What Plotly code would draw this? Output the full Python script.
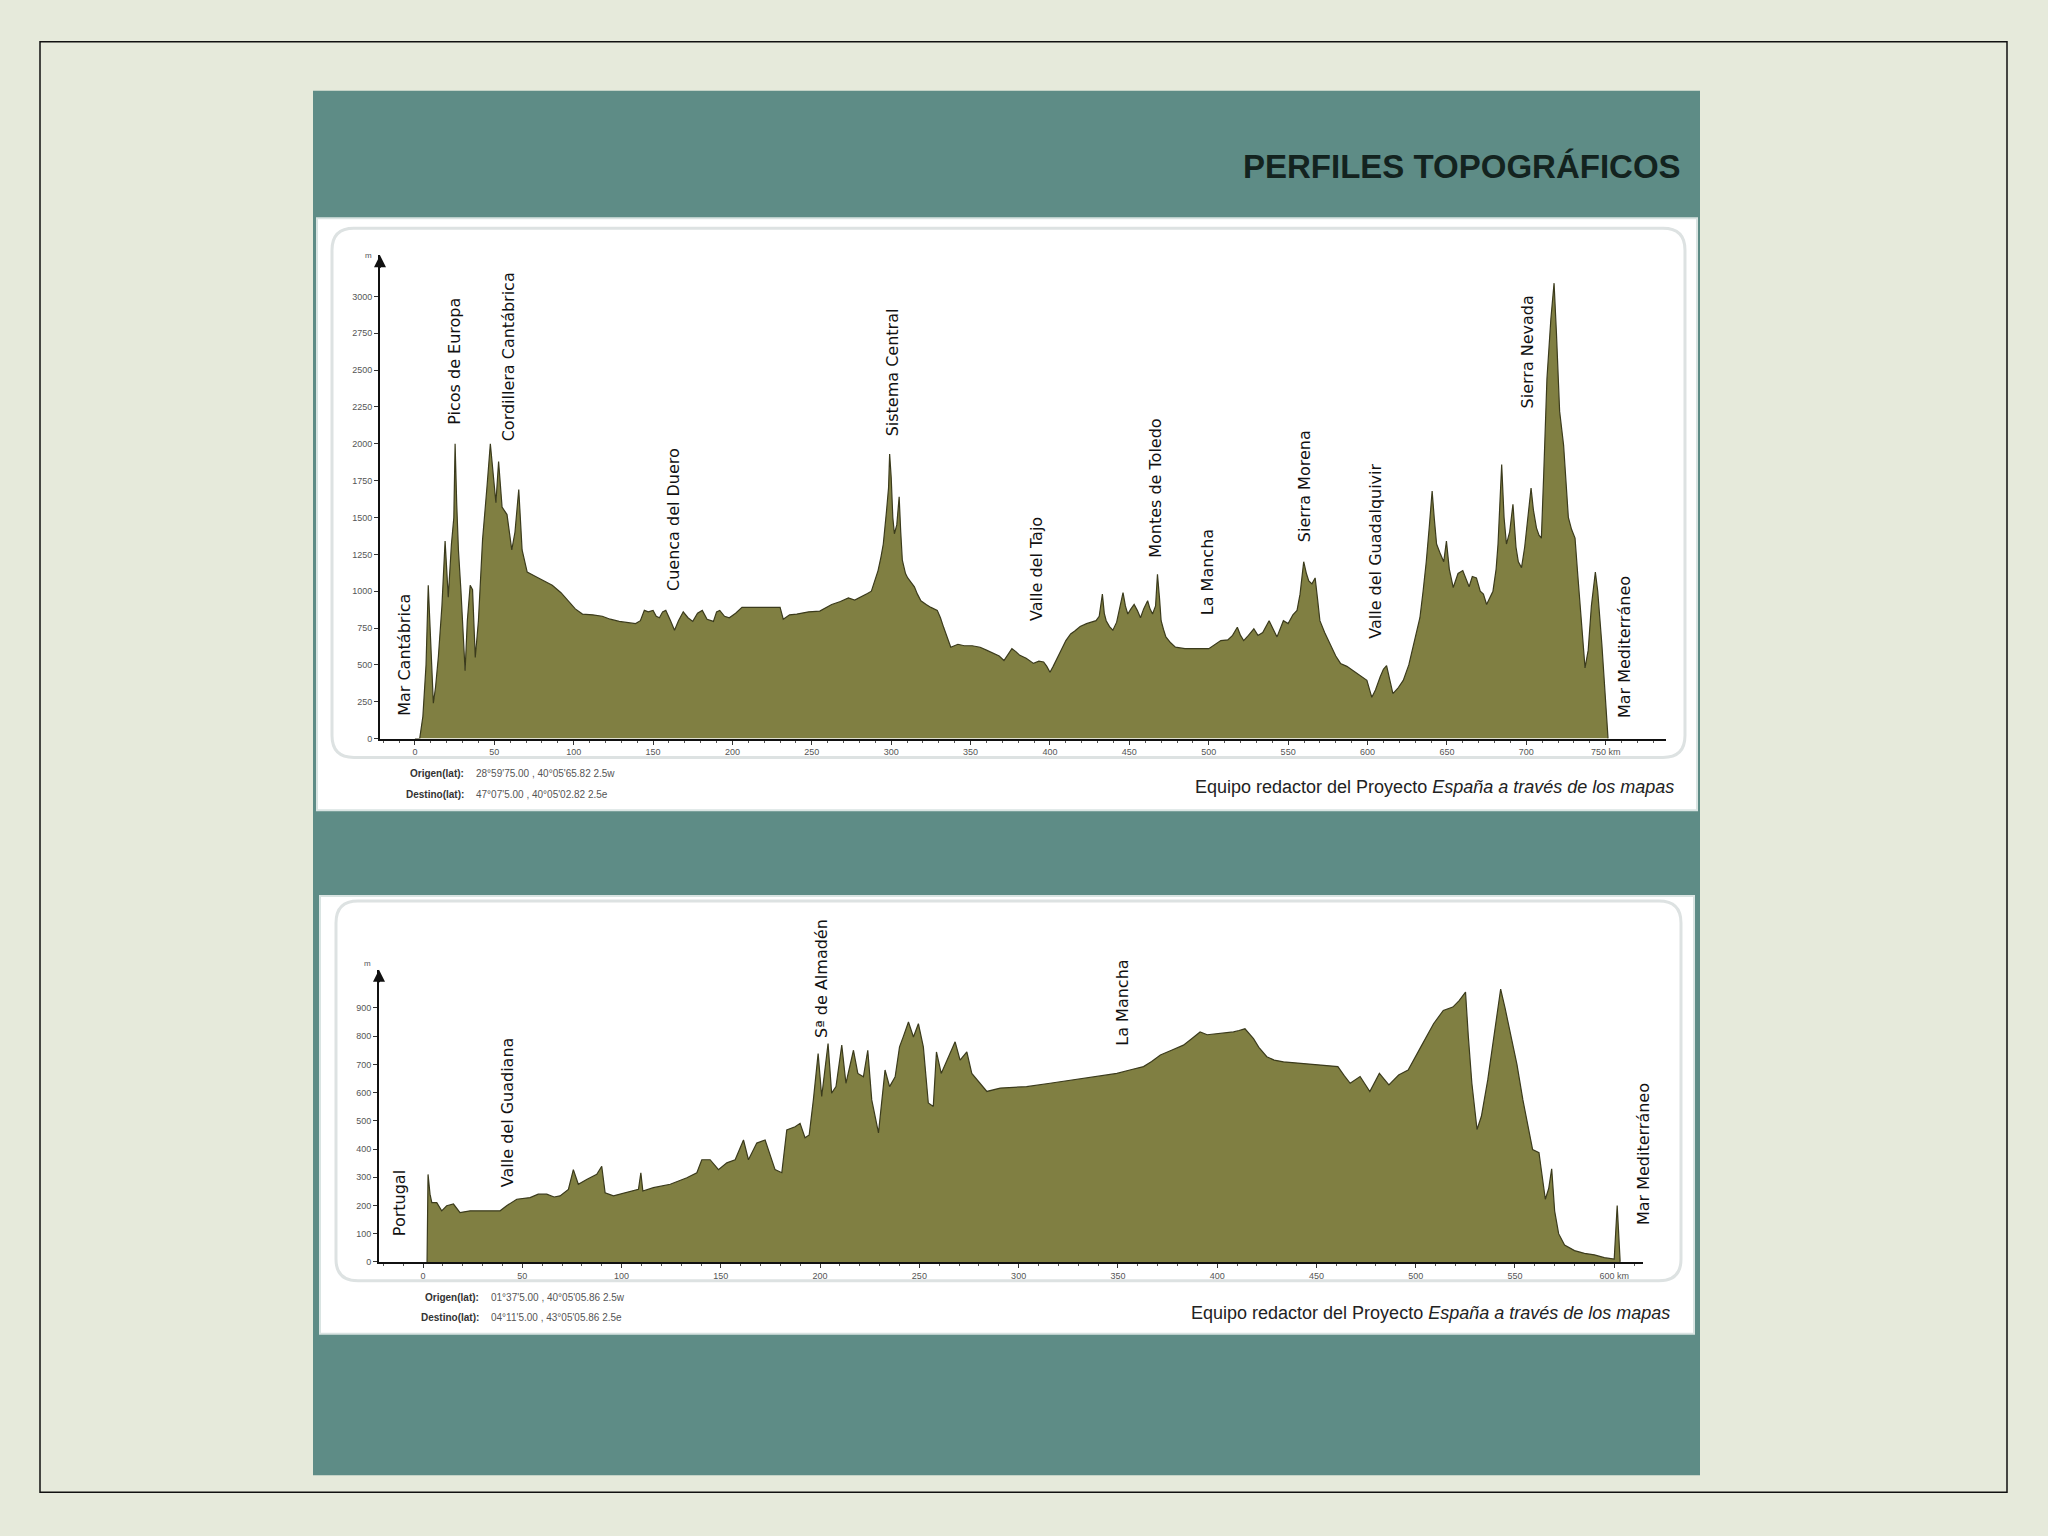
import plotly.graph_objects as go

# ---------------- data ----------------
top_km = [0, 3, 5, 7, 8.4, 10, 11.6, 13, 14.8, 17, 19, 21, 23, 24.5, 25.3, 26.3, 27.4, 29, 30.6, 31.6,
          33, 34.8, 36.3, 38, 40, 42.6, 45.4, 47.5, 49.6, 51, 52.7, 54.9, 58, 61, 63, 65.4, 67.5, 70.7,
          76, 81, 86.5, 92, 97, 101, 105.5, 112, 118, 123, 128.7, 134, 139, 142, 144.5, 147, 150, 152,
          154, 156, 158, 161, 163.5, 166, 169, 172, 175, 178, 181, 184, 188, 190, 192, 195, 198, 202,
          206, 215, 225, 230, 232, 236, 240.5, 248, 255, 262.5, 268, 273, 277, 281, 285, 287.5, 289.5,
          291.7, 293.5, 295, 297, 298.3, 299, 300, 301, 302, 303.5, 305, 306, 307, 309, 310.4, 312.5,
          314.6, 316.5, 318.7, 322, 325, 329, 331, 333, 335, 337.5, 342, 346, 351, 356, 360, 364.6, 368,
          371, 373.5, 376, 378.5, 381, 385, 389.6, 393, 396, 398, 400, 402, 404, 407, 410, 413, 415.6,
          419, 423, 426, 429, 431, 433, 434.2, 435.4, 437.5, 439.6, 442, 444, 446, 447.5, 449, 451, 453,
          455, 457, 459, 461.5, 463, 464.6, 466.5, 467.7, 469, 470, 471.5, 473, 476, 479, 485, 491.7,
          500, 507.6, 512, 515, 518, 520, 522, 525, 528.4, 531, 534, 538, 540.5, 543, 547, 550, 553,
          555.6, 557.5, 559.8, 561.5, 563, 565, 567, 568.5, 570, 573, 576.5, 580, 583, 587, 591, 595,
          599.6, 602.7, 605, 608, 610, 612, 614, 616, 619, 622.5, 626, 629, 633, 635, 637, 639, 640.7,
          642, 643.5, 646, 648, 649.7, 651.5, 654, 657, 660, 662, 664, 666, 668.6, 671, 673, 675, 677,
          679, 681, 682.2, 684.5, 686, 687.5, 689.5, 691.6, 693.5, 695, 697, 699, 701, 703, 704.5, 706.4,
          708, 709.5, 711, 713, 715.5, 717.5, 719, 721, 723.5, 725, 726.5, 728.5, 730.7, 732.5, 734,
          735.5, 737, 739, 741, 743.5, 745, 747.6, 750, 751.5]
top_elev = [0, 0, 150, 500, 1040, 600, 240, 350, 560, 900, 1340, 960, 1320, 1500, 2000, 1600, 1280, 1000, 700, 460,
            800, 1040, 1010, 550, 800, 1350, 1710, 2000, 1760, 1600, 1880, 1570, 1520, 1280, 1400, 1690, 1280, 1130,
            1100, 1070, 1040, 990, 930, 880, 845, 840, 830, 810, 795, 785, 780, 800, 870, 860, 870, 830,
            820, 860, 870, 800, 735, 800, 860, 820, 795, 850, 870, 810, 795, 860, 870, 830, 820, 850,
            890, 890, 890, 890, 810, 840, 845, 860, 865, 910, 930, 955, 940, 960, 985, 1000, 1060,
            1140, 1230, 1320, 1540, 1700, 1930, 1770, 1500, 1390, 1450, 1640, 1400, 1210, 1120, 1090, 1060,
            1030, 980, 935, 910, 890, 870, 820, 755, 690, 620, 640, 630, 630, 620, 600, 575, 560,
            530, 570, 610, 590, 565, 545, 510, 525, 520, 490, 450, 490, 530, 600, 665, 710, 730,
            760, 780, 790, 800, 830, 980, 850, 800, 760, 735, 790, 880, 990, 900, 845, 880, 910,
            870, 820, 880, 935, 880, 845, 900, 1115, 950, 800, 740, 690, 650, 620, 610, 610,
            610, 665, 670, 700, 755, 700, 665, 700, 745, 700, 720, 800, 740, 690, 800, 780, 840,
            870, 980, 1200, 1120, 1070, 1050, 1090, 950, 800, 720, 640, 560, 510, 490, 460, 430,
            395, 280, 330, 420, 470, 495, 400, 305, 340, 395, 500, 640, 820, 1000, 1200, 1450, 1680,
            1500, 1320, 1250, 1200, 1340, 1150, 1025, 1120, 1140, 1080, 1030, 1100, 1090, 1000, 980, 910, 960,
            1000, 1150, 1320, 1860, 1500, 1320, 1400, 1590, 1300, 1200, 1160, 1300, 1500, 1700, 1550, 1430,
            1380, 1360, 1800, 2440, 2850, 3090, 2750, 2220, 1990, 1700, 1500, 1420, 1360, 1100, 870,
            650, 480, 600, 900, 1130, 1000, 640, 250, 0]

bot_km = [2, 2.5, 3.5, 4.4, 6.9, 9.4, 11.9, 15.3, 18.6, 23.7, 32, 38.8, 42.1, 47.2, 53.9, 58, 62.3, 66, 69,
          73.2, 75.7, 78.2, 82.4, 87.5, 90, 91.7, 95.9, 102.6, 108.5, 109.7, 110.7, 116, 124.5, 132.9, 137.9,
          140.4, 144.6, 148.8, 153, 157.2, 161.4, 163.9, 168.1, 172.3, 177.3, 180.7, 183.2, 187.4, 189.9,
          192.4, 194.5, 196.6, 199, 200.8, 204, 205.8, 208, 210.9, 213, 216.8, 219, 221.8, 224, 226, 229.4,
          232.7, 235, 237.8, 240, 242, 244.5, 247, 249.5, 252, 254.5, 257, 258.6, 261, 264.6, 268, 270.5,
          273.9, 276.4, 280.6, 284, 290.7, 297, 304, 315.8, 325, 332.7, 341, 349.5, 356, 362.9, 367, 371.4,
          377, 383, 387, 391.4, 395, 399.9, 404, 408.2, 411, 414, 418.3, 421, 425, 428.7, 433.4, 441.8,
          448, 454, 460.8, 464, 467, 472, 476.9, 481.7, 486.5, 491.4, 496.2, 502.6, 509, 513.9, 518.7,
          521.9, 525.1, 526.5, 528.3, 530.9, 533.1, 536.3, 539.6, 542.8, 545, 547.6, 551, 554, 556.5,
          558.9, 562.1, 565.3, 567, 568.5, 570, 572, 575, 580, 585, 590, 595, 600, 601.5, 602.5, 603]
bot_elev = [0, 310, 240, 210, 210, 181, 199, 205, 175, 181, 181, 181, 199, 222, 228, 240, 240, 230, 234,
            257, 327, 275, 292, 310, 339, 245, 234, 245, 257, 316, 251, 263, 275, 298, 316,
            362, 362, 327, 351, 362, 432, 362, 421, 432, 327, 316, 468, 479, 491,
            440, 450, 574, 738, 586, 774, 598, 621, 768, 633, 750, 668, 656, 750, 574, 457,
            680, 621, 656, 762, 800, 850, 797, 844, 762, 563, 551, 744, 668, 727, 780, 715,
            744, 668, 633, 604, 616, 618, 621, 633, 643, 651, 660, 668, 680, 692, 710, 733,
            750, 768, 790, 815, 805, 809, 812, 815, 820, 826, 791, 760, 727, 715, 709, 703,
            700, 696, 692, 660, 633, 657, 604, 668, 627, 662, 680, 762, 844, 891, 903,
            926, 956, 800, 633, 469, 516, 645, 809, 967, 900, 809, 700, 574, 480,
            398, 387, 222, 260, 330, 180, 100, 60, 40, 30, 25, 15, 10, 200, 60, 0]

top_tick_vals = [0, 50, 100, 150, 200, 250, 300, 350, 400, 450, 500, 550, 600, 650, 700, 750]
top_tick_text = ["0", "50", "100", "150", "200", "250", "300", "350", "400", "450", "500", "550",
                 "600", "650", "700", "750 km"]
top_ytick_vals = [0, 250, 500, 750, 1000, 1250, 1500, 1750, 2000, 2250, 2500, 2750, 3000]
bot_tick_vals = [0, 50, 100, 150, 200, 250, 300, 350, 400, 450, 500, 550, 600]
bot_tick_text = ["0", "50", "100", "150", "200", "250", "300", "350", "400", "450", "500", "550", "600 km"]
bot_ytick_vals = [0, 100, 200, 300, 400, 500, 600, 700, 800, 900]

top_labels = ["Mar Cantábrica", "Picos de Europa", "Cordillera Cantábrica", "Cuenca del Duero",
              "Sistema Central", "Valle del Tajo", "Montes de Toledo", "La Mancha", "Sierra Morena",
              "Valle del Guadalquivir", "Sierra Nevada", "Mar Mediterráneo"]
top_label_km = [-7, 25, 59, 163, 300.5, 391.5, 466, 499, 560, 605, 701, 762]
top_label_elev = [567, 2561, 2591, 1488, 2485, 1148, 1700, 1130, 1713, 1271, 2626, 619]

bot_labels = ["Portugal", "Valle del Guadiana", "Sª de Almadén", "La Mancha", "S.Ibérica", "Mar Mediterráneo"]
bot_label_km = [-11.5, 42.5, 201, 352.5, 535.5, 614.5]
bot_label_elev = [209, 532, 1003, 918, 1058, 382]

# ---------------- styling helpers ----------------
W, H = 2048, 1536
FILL = "#807f42"
EDGE = "#3b3b1c"
TEAL = "#5e8c86"
BG = "#e6eadb"
DY = 3  # small vertical shift for the lower panel


def px(x):
    return x / W


def py(y):
    return 1 - y / H


def P(x, y):
    return f"{px(x):.5f},{py(y):.5f}"


def rrect_path(x0, y0, x1, y1, r):
    return (f"M {P(x0 + r, y0)} L {P(x1 - r, y0)} Q {P(x1, y0)} {P(x1, y0 + r)} "
            f"L {P(x1, y1 - r)} Q {P(x1, y1)} {P(x1 - r, y1)} L {P(x0 + r, y1)} "
            f"Q {P(x0, y1)} {P(x0, y1 - r)} L {P(x0, y0 + r)} Q {P(x0, y0)} {P(x0 + r, y0)} Z")


fig = go.Figure()
fig.add_trace(go.Scatter(x=top_km, y=top_elev, mode="lines", fill="tozeroy",
                         fillcolor=FILL, line=dict(color=EDGE, width=1.2),
                         xaxis="x", yaxis="y", hoverinfo="skip"))
fig.add_trace(go.Scatter(x=bot_km, y=bot_elev, mode="lines", fill="tozeroy",
                         fillcolor=FILL, line=dict(color=EDGE, width=1.2),
                         xaxis="x2", yaxis="y2", hoverinfo="skip"))

shapes = [
    dict(type="rect", xref="paper", yref="paper", x0=px(40), x1=px(2007), y0=py(42), y1=py(1497),
         line=dict(color="#111111", width=1.5), fillcolor="rgba(0,0,0,0)", layer="below"),
    dict(type="rect", xref="paper", yref="paper", x0=px(313), x1=px(1700), y0=py(91), y1=py(1480),
         line=dict(width=0), fillcolor=TEAL, layer="below"),
    dict(type="rect", xref="paper", yref="paper", x0=px(317), x1=px(1697), y0=py(219), y1=py(813),
         line=dict(color="#d9e4e2", width=2), fillcolor="white", layer="below"),
    dict(type="path", xref="paper", yref="paper", path=rrect_path(332, 229, 1685, 760, 22),
         line=dict(color="#dde2e2", width=3), fillcolor="white", layer="below"),
    dict(type="rect", xref="paper", yref="paper", x0=px(320), x1=px(1694), y0=py(896 + DY),
         y1=py(1335 + DY), line=dict(color="#d9e4e2", width=2), fillcolor="white", layer="below"),
    dict(type="path", xref="paper", yref="paper", path=rrect_path(336, 901 + DY, 1681, 1282 + DY, 22),
         line=dict(color="#dde2e2", width=3), fillcolor="white", layer="below"),
]

annotations = []
annotations.append(dict(text="<b>PERFILES TOPOGRÁFICOS</b>", xref="paper", yref="paper",
                        x=px(1683), y=py(167), xanchor="right", yanchor="middle", showarrow=False,
                        font=dict(family="Liberation Sans, Arial", size=33, color="#13231f")))

for lab, k, e in zip(top_labels, top_label_km, top_label_elev):
    annotations.append(dict(text=lab, x=k, y=e, xref="x", yref="y", textangle=-90,
                            showarrow=False, xanchor="center", yanchor="middle",
                            font=dict(family="DejaVu Sans", size=16, color="#111111")))
for lab, k, e in zip(bot_labels, bot_label_km, bot_label_elev):
    annotations.append(dict(text=lab, x=k, y=e, xref="x2", yref="y2", textangle=-90,
                            showarrow=False, xanchor="center", yanchor="middle",
                            font=dict(family="DejaVu Sans", size=16, color="#111111")))

# axis arrowheads and unit marks
for (ax_x, top_y, unit_y) in [(380, 256, 250), (379, 970 + DY, 964 + DY)]:
    annotations.append(dict(text="", xref="paper", yref="paper", x=px(ax_x), y=py(top_y),
                            ax=0, ay=14, showarrow=True, arrowhead=2, arrowsize=1.2,
                            arrowwidth=2, arrowcolor="#111111"))
    annotations.append(dict(text="m", xref="paper", yref="paper", x=px(ax_x - 6), y=py(unit_y),
                            xanchor="right", showarrow=False,
                            font=dict(family="Liberation Sans", size=8, color="#555555")))

credit = "Equipo redactor del Proyecto <i>España a través de los mapas</i>"
footer = [
    (776, 797, 1676, 790, "28°59'75.00 , 40°05'65.82 2.5w", "47°07'5.00 , 40°05'02.82 2.5e", 466),
    (1299 + DY, 1319 + DY, 1672, 1314 + DY, "01°37'5.00 , 40°05'05.86 2.5w",
     "04°11'5.00 , 43°05'05.86 2.5e", 481),
]
for (r1, r2, cx, cy, v1, v2, lx) in footer:
    annotations.append(dict(text=credit, xref="paper", yref="paper", x=px(cx), y=py(cy),
                            xanchor="right", yanchor="middle", showarrow=False,
                            font=dict(family="Liberation Sans, Arial", size=18, color="#222222")))
    for (ry, lab, val) in [(r1, "Origen(lat):", v1), (r2, "Destino(lat):", v2)]:
        annotations.append(dict(text=f"<b>{lab}</b>", xref="paper", yref="paper", x=px(lx), y=py(ry),
                                xanchor="right", yanchor="middle", showarrow=False,
                                font=dict(family="Liberation Sans", size=10, color="#333333")))
        annotations.append(dict(text=val, xref="paper", yref="paper", x=px(lx + 8), y=py(ry),
                                xanchor="left", yanchor="middle", showarrow=False,
                                font=dict(family="Liberation Sans", size=10, color="#555555")))

tickfont = dict(family="Liberation Sans, Arial", size=9, color="#555555")
xcommon = dict(showgrid=False, zeroline=False, showline=True, linecolor="#111111", linewidth=2,
               ticks="outside", ticklen=4, tickcolor="#333333", tickfont=tickfont,
               minor=dict(ticks="outside", ticklen=2, dtick=10, tickcolor="#555555"))
ycommon = dict(showgrid=False, zeroline=False, showline=True, linecolor="#111111", linewidth=2,
               ticks="outside", ticklen=4, tickcolor="#333333", tickfont=tickfont)

fig.update_layout(
    width=W, height=H, margin=dict(l=0, r=0, t=0, b=0),
    paper_bgcolor=BG, plot_bgcolor="rgba(0,0,0,0)", showlegend=False,
    shapes=shapes, annotations=annotations,
    xaxis=dict(domain=[px(380), px(1666)], range=[-22, 788], anchor="y",
               tickmode="array", tickvals=top_tick_vals, ticktext=top_tick_text, **xcommon),
    yaxis=dict(domain=[py(741), py(256)], range=[0, 3280], anchor="x",
               tickmode="array", tickvals=top_ytick_vals, **ycommon),
    xaxis2=dict(domain=[px(379), px(1643)], range=[-22.2, 614.5], anchor="y2",
                tickmode="array", tickvals=bot_tick_vals, ticktext=bot_tick_text, **xcommon),
    yaxis2=dict(domain=[py(1263 + DY), py(970 + DY)], range=[0, 1035], anchor="x2",
                tickmode="array", tickvals=bot_ytick_vals, **ycommon),
)

fig.write_html("out.html", config={"displayModeBar": False},
               post_script="document.body.style.margin='0';document.body.style.background='" + BG + "';")
